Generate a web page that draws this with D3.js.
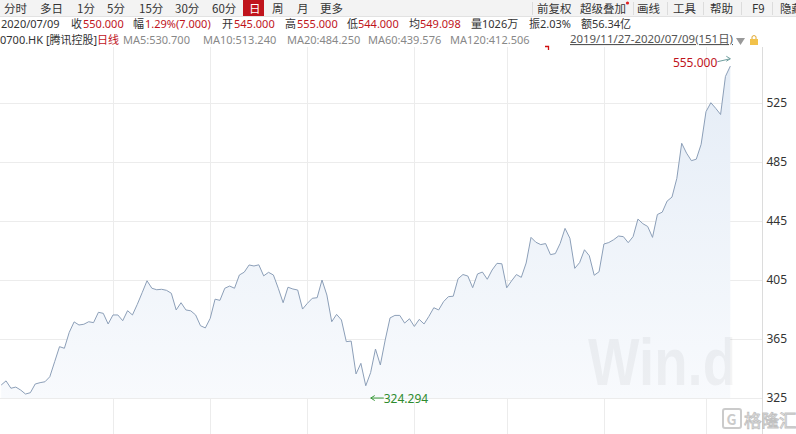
<!DOCTYPE html>
<html><head><meta charset="utf-8">
<script src="https://cdn.jsdelivr.net/npm/d3@7/dist/d3.min.js"></script>
<style>
html,body{margin:0;padding:0;background:#fff;overflow:hidden}
svg{display:block;font-family:"Noto Sans CJK SC","Noto Sans",sans-serif}
.lat{font-family:"Noto Sans","Noto Sans CJK SC",sans-serif}
</style></head><body>
<svg id="c" width="796" height="434"></svg>
<script>
// ---- data ----
const closes = [
333.8,336.6,331.6,332.4,330.4,327.7,328.6,334.5,335.4,336.0,
339.4,349.6,359.8,358.7,369.5,376.6,374.5,375.0,376.7,376.1,
383.1,382.4,375.2,381.3,381.3,377.4,384.2,381.3,388.5,396.4,
404.5,399.4,398.4,398.7,398.0,396.0,384.7,389.6,384.7,384.1,
381.3,374.0,372.5,379.0,392.0,391.2,399.4,400.9,399.4,408.4,
410.3,415.2,414.5,415.3,407.8,410.2,408.4,399.4,389.6,400.1,
398.9,398.2,385.3,389.2,392.6,393.0,405.0,394.8,376.7,381.7,
377.9,363.2,363.6,341.3,348.5,333.3,342.2,358.2,347.4,364.3,
379.3,381.0,381.0,375.8,378.7,373.5,378.3,375.2,380.4,386.2,
384.7,390.3,393.7,394.0,405.9,408.7,407.7,399.8,409.1,410.4,
405.5,411.8,416.3,416.0,399.7,404.4,408.7,406.8,416.5,433.9,
430.6,429.0,429.7,422.2,422.9,429.8,440.0,433.3,412.9,416.8,
425.5,421.4,408.2,410.6,429.4,430.4,432.3,434.8,434.4,430.3,
434.4,446.3,443.2,441.3,433.9,449.4,451.0,458.5,461.2,473.9,
497.7,491.0,485.9,486.9,497.0,519.1,525.2,521.4,517.2,543.0,
550.0];
const yTicks = [325, 365, 405, 445, 485, 525];
const monthStarts = [23, 43, 63, 85, 104, 124, 145]; // first trading day of 2020-01..07 (index)
const highValue = 555.0, highIndex = 150, highLabel = "555.000";
const lowValue = 324.294, lowIndex = 75, lowLabel = "324.294";

const periodBtns = ["分时","多日","1分","5分","15分","30分","60分","日","周","月","更多"];
const toolBtns = ["前复权","超级叠加","画线","工具","帮助","F9","隐藏"];
const quoteLabels = ["收","幅","开","高","低","均","量","振","额"];
const quoteValues = ["550.000","1.29%(7.000)","545.000","555.000","544.000","549.098","1026万","2.03%","56.34亿"];
const quoteDate = "2020/07/09";
const stockName = "0700.HK [腾讯控股]";
const lineType = "日线";
const maLabels = ["MA5:530.700","MA10:513.240","MA20:484.250","MA60:439.576","MA120:412.506"];
const rangeLabel = "2019/11/27-2020/07/09(151日)";

// ---- layout ----
const W = 796, H = 434;
const svg = d3.select("#c");
const defs = svg.append("defs");
const grad = defs.append("linearGradient").attr("id","g").attr("gradientUnits","userSpaceOnUse")
  .attr("x1",0).attr("x2",0).attr("y1",55).attr("y2",398);
grad.append("stop").attr("offset",0).attr("stop-color","#e4ecf6");
grad.append("stop").attr("offset",1).attr("stop-color","#f8fafd");

const x = d3.scaleLinear().domain([0, closes.length-1]).range([1.2, 730.3]);
const y = d3.scaleLinear().domain([325, 525]).range([398, 103]);
const axisX = 762.5;

// grid
const g = svg.append("g");
g.selectAll("line.h").data(yTicks).join("line")
  .attr("x1",0).attr("x2",axisX).attr("y1",d=>Math.round(y(d))+0.5).attr("y2",d=>Math.round(y(d))+0.5)
  .attr("stroke","#ececec");
g.selectAll("line.v").data(monthStarts).join("line")
  .attr("x1",d=>Math.round(x(d))+0.5).attr("x2",d=>Math.round(x(d))+0.5).attr("y1",47).attr("y2",H)
  .attr("stroke","#ececec");
g.append("line").attr("x1",axisX).attr("x2",axisX).attr("y1",47).attr("y2",H).attr("stroke","#dcdcdc");

// area + line
const area = d3.area().x((d,i)=>x(i)).y0(y(325)).y1(d=>y(d));
svg.append("path").datum(closes).attr("d",area).attr("fill","url(#g)");

// watermark (drawn over the fill, very faint)
svg.append("text").attr("x",588).attr("y",385).attr("font-family","Arial, 'Liberation Sans', sans-serif")
  .attr("font-weight","bold").attr("font-size",66).attr("textLength",148).attr("lengthAdjust","spacingAndGlyphs")
  .attr("fill","#000").attr("fill-opacity",0.045).text("Win.d");

const line = d3.line().x((d,i)=>x(i)).y(d=>y(d));
svg.append("path").datum(closes).attr("d",line).attr("fill","none").attr("stroke","#8c9fb8").attr("stroke-width",1);

// y axis labels
const yAxis = d3.axisRight(y).tickValues(yTicks).tickSize(0).tickPadding(4);
const ya = svg.append("g").attr("transform",`translate(${axisX},0)`).call(yAxis);
ya.select(".domain").remove();
ya.selectAll("text").attr("font-size",12).attr("fill","#333").attr("font-family","'Noto Sans',sans-serif");

// high / low annotations
const hx = x(highIndex), hy = y(highValue);
svg.append("line").attr("x1",hx-13).attr("y1",hy+3).attr("x2",hx).attr("y2",hy).attr("stroke","#6f9e9e");
svg.append("path").attr("d",`M${hx-4},${hy-2.5} L${hx},${hy} L${hx-4},${hy+2.5}`).attr("fill","none").attr("stroke","#6f9e9e");
svg.append("text").attr("x",hx-13).attr("y",hy+8).attr("text-anchor","end").attr("font-size",12)
  .attr("fill","#c0141c").attr("font-family","'Noto Sans',sans-serif").text(highLabel);

const lx = x(lowIndex)+5, ly = y(lowValue)-1;
svg.append("line").attr("x1",lx).attr("x2",lx+13).attr("y1",ly).attr("y2",ly).attr("stroke","#3a9a3a");
svg.append("path").attr("d",`M${lx+4},${ly-2.5} L${lx},${ly} L${lx+4},${ly+2.5}`).attr("fill","none").attr("stroke","#3a9a3a");
svg.append("text").attr("x",lx+13).attr("y",ly+4.5).attr("font-size",12)
  .attr("fill","#2e8b2e").attr("font-family","'Noto Sans',sans-serif").text(lowLabel);

// ---- header ----
const hdr = svg.append("g");
hdr.append("rect").attr("x",0).attr("y",0).attr("width",W).attr("height",16).attr("fill","#f3f3f3");
hdr.append("line").attr("x1",0).attr("x2",W).attr("y1",16.5).attr("y2",16.5).attr("stroke","#e2e2e2");
const periodX = [4,40,77,107,139,175,212,249,272,297,320];
const selIdx = 7;
hdr.append("rect").attr("x",243).attr("y",0).attr("width",21).attr("height",16).attr("fill","#c0141c");
hdr.selectAll("text.p").data(periodBtns).join("text").attr("class","p")
  .attr("x",(d,i)=>periodX[i]).attr("y",12.5).attr("font-size",11.5)
  .attr("fill",(d,i)=>i===selIdx?"#fff":"#333").text(d=>d);
const toolX = [537,580,637,673,710,752,780];
hdr.selectAll("text.t").data(toolBtns).join("text").attr("class","t")
  .attr("x",(d,i)=>toolX[i]).attr("y",12.5).attr("font-size",11.5).attr("fill","#333").text(d=>d);
hdr.append("circle").attr("cx",627.5).attr("cy",3).attr("r",1.6).attr("fill","#e02020");
[532,633,667,703,741,772].forEach(v=>hdr.append("line").attr("x1",v+0.5).attr("x2",v+0.5).attr("y1",2).attr("y2",15).attr("stroke","#dcdcdc"));

// row 2
const F2 = 11;
hdr.append("text").attr("class","lat").attr("x",1).attr("y",28).attr("font-size",F2).attr("fill","#333").text(quoteDate);
const qLabX = [71,133,222,285,347,409,471,529,581];
const qValX = [83,145,234,297,358,420,482,540,592];
const redVals = [true,true,true,true,true,true,false,false,false];
quoteLabels.forEach((l,i)=>{
  hdr.append("text").attr("x",qLabX[i]).attr("y",28).attr("font-size",F2).attr("fill","#333").text(l);
  hdr.append("text").attr("class","lat").attr("x",qValX[i]).attr("y",28).attr("font-size",F2)
    .attr("fill",redVals[i]?"#c0141c":"#333").text(quoteValues[i]);
});

// row 3
hdr.append("text").attr("class","lat").attr("x",0).attr("y",44).attr("font-size",F2).attr("fill","#333").text(stockName);
hdr.append("text").attr("x",97).attr("y",44).attr("font-size",F2).attr("fill","#c0141c").text(lineType);
const maX = [123,203,287,368,450];
hdr.selectAll("text.ma").data(maLabels).join("text").attr("class","ma lat")
  .attr("x",(d,i)=>maX[i]).attr("y",44).attr("font-size",F2).attr("fill","#888").text(d=>d);
hdr.append("text").attr("class","lat").attr("x",570).attr("y",43).attr("font-size",F2).attr("fill","#555")
  .attr("text-decoration","underline").attr("textLength",163).attr("lengthAdjust","spacingAndGlyphs").text(rangeLabel);
hdr.append("path").attr("d","M736,38 L745,38 L740.5,45 Z").attr("fill","#999");
hdr.append("rect").attr("x",750).attr("y",39).attr("width",8).attr("height",6).attr("fill","#f2c24a");
hdr.append("path").attr("d","M752,39 L752,36.5 Q754,34.5 756,36.5 L756,39").attr("fill","none").attr("stroke","#e0a830");
hdr.append("path").attr("d","M545,46.5 L548.5,46.5 L548.5,50").attr("fill","none").attr("stroke","#d01010").attr("stroke-width",1.3);

// corner logo
const logo = svg.append("g").attr("opacity",0.6);
logo.append("rect").attr("x",723).attr("y",409).attr("width",18).attr("height",19).attr("rx",2).attr("fill","none").attr("stroke","#aaa").attr("stroke-width",2);
logo.append("text").attr("x",726.5).attr("y",424.5).attr("font-size",14).attr("font-weight","bold").attr("fill","#aaa").text("G");
logo.append("text").attr("x",744).attr("y",427).attr("font-size",17.5).attr("fill","none").attr("stroke","#999").attr("stroke-width",0.9).text("格隆汇");
</script>
</body></html>
